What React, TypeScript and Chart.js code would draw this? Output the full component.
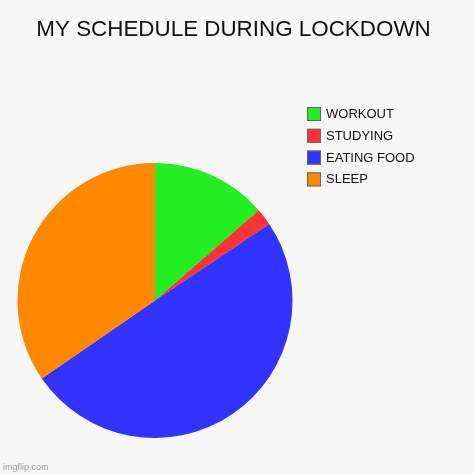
import React, { useEffect, useRef } from "react";
import { Chart, registerables } from "chart.js";

Chart.register(...registerables);

const titleText = "MY SCHEDULE DURING LOCKDOWN";
const categories = ["WORKOUT", "STUDYING", "EATING FOOD", "SLEEP"];
const values = [13.6, 2.0, 49.8, 34.6];
const colors = ["#22ee22", "#ff3333", "#3333ff", "#ff8800"];

const BG = "#f7f7f7";
const FONT = '"Liberation Sans", Arial, sans-serif';

// background, title, legend on the right and the watermark
const decorPlugin = {
  id: "decor",
  beforeDraw(chart: Chart) {
    const ctx = chart.ctx;
    ctx.save();
    ctx.fillStyle = BG;
    ctx.fillRect(0, 0, chart.width, chart.height);
    ctx.restore();
  },
  afterDraw(chart: Chart) {
    const ctx = chart.ctx;
    const labels = chart.data.labels as string[];
    const bg = chart.data.datasets[0].backgroundColor as string[];
    ctx.save();

    ctx.font = `22.4px ${FONT}`;
    ctx.fillStyle = "#111";
    ctx.textAlign = "center";
    ctx.textBaseline = "alphabetic";
    ctx.fillText(titleText, 233.5, 35.5);

    ctx.textAlign = "left";
    ctx.font = `13px ${FONT}`;
    ctx.textBaseline = "middle";
    labels.forEach((label, i) => {
      const cy = 114 + i * 21.8;
      ctx.fillStyle = bg[i];
      ctx.fillRect(307, cy - 7, 14, 14);
      ctx.strokeStyle = "#666";
      ctx.lineWidth = 1;
      ctx.strokeRect(307.5, cy - 6.5, 13, 13);
      ctx.fillStyle = "#111";
      ctx.fillText(label, 326, cy + 0.5);
    });

    ctx.font = `9px ${FONT}`;
    ctx.fillStyle = "#9a9a9a";
    ctx.textBaseline = "alphabetic";
    ctx.fillText("imgflip.com", 3, 470);
    ctx.restore();
  },
};

const App: React.FC = () => {
  const chartRef = useRef<HTMLCanvasElement | null>(null);
  const chartInstance = useRef<Chart | null>(null);

  useEffect(() => {
    document.body.style.margin = "0";
    document.body.style.background = BG;
    if (!chartRef.current) return;
    if (chartInstance.current) chartInstance.current.destroy();

    chartInstance.current = new Chart(chartRef.current, {
      type: "pie",
      data: {
        labels: categories,
        datasets: [
          {
            data: values,
            backgroundColor: colors,
            borderWidth: 0,
          },
        ],
      },
      options: {
        responsive: false,
        animation: false,
        layout: {
          padding: { left: 17.5, right: 181.5, top: 163, bottom: 36 },
        },
        plugins: {
          legend: { display: false },
          tooltip: { enabled: false },
          title: { display: false },
        },
      },
      plugins: [decorPlugin],
    });

    return () => {
      if (chartInstance.current) {
        chartInstance.current.destroy();
        chartInstance.current = null;
      }
    };
  }, []);

  return (
    <div style={{ width: 474, height: 474 }}>
      <canvas ref={chartRef} width={474} height={474}></canvas>
    </div>
  );
};

export default App;
